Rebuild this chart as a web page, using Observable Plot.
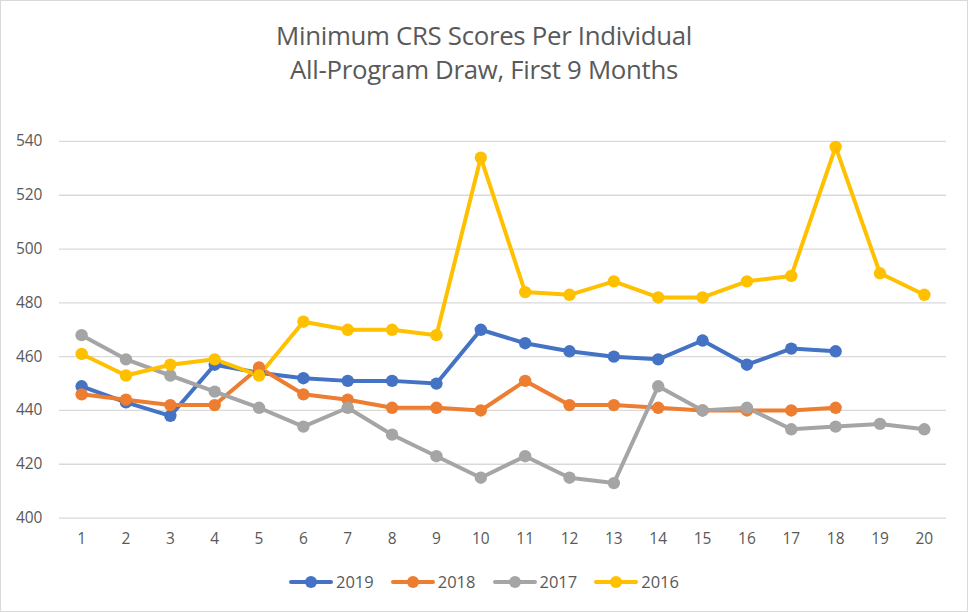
<!DOCTYPE html>
<html>
<head>
<meta charset="utf-8">
<script src="https://cdn.jsdelivr.net/npm/d3@7"></script>
<script src="https://cdn.jsdelivr.net/npm/@observablehq/plot@0.6"></script>
<style>
  html, body { margin: 0; padding: 0; background: #fff; }
  #chart { position: relative; width: 968px; height: 612px; box-sizing: border-box; border: 1px solid #d9d9d9; overflow: hidden; font-family: "Open Sans", sans-serif; color: #595959; }
  #title { position: absolute; top: 17px; left: 0; width: 966px; text-align: center; font-size: 25.8px; line-height: 34px; color: #595959; letter-spacing: -0.3px; }
  #plot { position: absolute; top: 109px; left: -1px; }
  #legend { position: absolute; top: 569px; left: 0; width: 966px; display: flex; justify-content: center; gap: 17px; font-size: 16.5px; color: #595959; }
  .item { display: flex; align-items: center; gap: 3px; }
</style>
</head>
<body>
<div id="chart">
  <div id="title">Minimum CRS Scores Per Individual<br>All-Program Draw, First 9 Months</div>
  <div id="plot"></div>
  <div id="legend"></div>
</div>
<script>
const draws = d3.range(1, 21);
const seriesNames = ["2019", "2018", "2017", "2016"];
const seriesColors = ["#4472C4", "#ED7D31", "#A5A5A5", "#FFC000"];
const yTicks = [400, 420, 440, 460, 480, 500, 520, 540];

const s2019 = [449, 443, 438, 457, 454, 452, 451, 451, 450, 470, 465, 462, 460, 459, 466, 457, 463, 462];
const s2018 = [446, 444, 442, 442, 456, 446, 444, 441, 441, 440, 451, 442, 442, 441, 440, 440, 440, 441];
const s2017 = [468, 459, 453, 447, 441, 434, 441, 431, 423, 415, 423, 415, 413, 449, 440, 441, 433, 434, 435, 433];
const s2016 = [461, 453, 457, 459, 453, 473, 470, 470, 468, 534, 484, 483, 488, 482, 482, 488, 490, 538, 491, 483];

const seriesValues = [s2019, s2018, s2017, s2016];
const data = [];
seriesNames.forEach((name, i) => {
  seriesValues[i].forEach((v, j) => data.push({series: name, draw: draws[j], value: v}));
});

const color = {domain: seriesNames, range: seriesColors};

const plot = Plot.plot({
  width: 968,
  height: 445,
  marginLeft: 59,
  marginRight: 21,
  marginTop: 31,
  marginBottom: 37,
  style: {fontFamily: "Open Sans, sans-serif", fontSize: "15.5px", color: "#595959", background: "transparent"},
  x: {domain: [0.5, 20.5], label: null},
  y: {domain: [400, 540], label: null},
  color,
  marks: [
    Plot.gridY(yTicks, {stroke: "#d9d9d9", strokeOpacity: 1, strokeWidth: 1.3}),
    Plot.axisY(yTicks, {tickSize: 0, tickPadding: 17, label: null, fill: "#595959", fontSize: 15.5}),
    Plot.axisX(draws, {tickSize: 0, tickPadding: 15, label: null, fill: "#595959", fontSize: 15.5, tickFormat: d => String(d)}),
    ...seriesNames.map(name => Plot.line(data.filter(d => d.series === name), {x: "draw", y: "value", stroke: "series", strokeWidth: 4, strokeLinejoin: "round"})),
    ...seriesNames.map(name => Plot.dot(data.filter(d => d.series === name), {x: "draw", y: "value", fill: "series", r: 6.2, stroke: "none"}))
  ]
});
document.getElementById("plot").appendChild(plot);

const legend = document.getElementById("legend");
seriesNames.forEach((name, i) => {
  const item = document.createElement("div");
  item.className = "item";
  item.innerHTML = `<svg width="44" height="14"><line x1="2" y1="7" x2="42" y2="7" stroke="${seriesColors[i]}" stroke-width="4" stroke-linecap="round"/><circle cx="22" cy="7" r="6" fill="${seriesColors[i]}"/></svg><span>${name}</span>`;
  legend.appendChild(item);
});
</script>
</body>
</html>
